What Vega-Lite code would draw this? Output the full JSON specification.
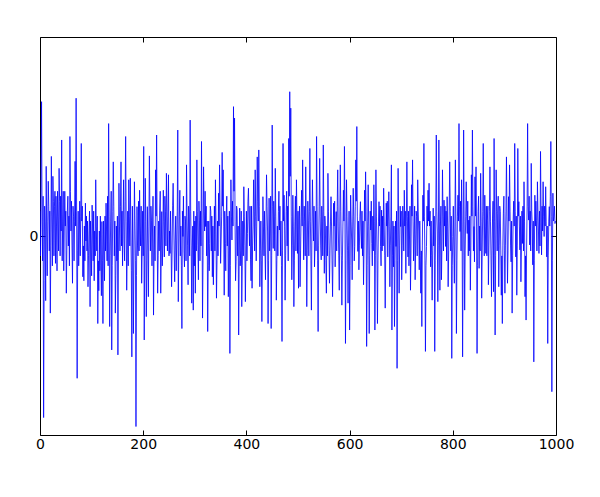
{
  "$schema": "https://vega.github.io/schema/vega-lite/v6.json",
  "width": 516,
  "height": 398,
  "autosize": {"type": "none"},
  "padding": {"left": 40, "top": 37, "right": 44, "bottom": 62},
  "background": "white",
  "data": {"values": [
{"x":0,"y":0.5},{"x":1,"y":-0.4},{"x":3,"y":2.7},{"x":4,"y":0.3},{"x":5,"y":-0.5},{"x":6,"y":0.8},{"x":7,"y":-3.65},{"x":8,"y":-0.9},{"x":9,"y":0.6},{"x":10,"y":0.2},
{"x":11,"y":-1.3},{"x":12,"y":1.4},{"x":13,"y":0.1},{"x":14,"y":-0.8},{"x":15,"y":0.3},{"x":16,"y":1.1},{"x":17,"y":0.6},{"x":18,"y":-0.3},{"x":19,"y":0.5},{"x":20,"y":-1.55},
{"x":21,"y":-0.2},{"x":22,"y":1.6},{"x":23,"y":0.4},{"x":24,"y":-0.6},{"x":25,"y":1.2},{"x":26,"y":0.7},{"x":27,"y":-0.4},{"x":28,"y":0.6},{"x":29,"y":0.9},{"x":30,"y":-0.55},
{"x":31,"y":0.8},{"x":32,"y":0.2},{"x":33,"y":-0.7},{"x":34,"y":0.9},{"x":35,"y":0.4},{"x":36,"y":-0.3},{"x":37,"y":1.36},{"x":38,"y":0.7},{"x":39,"y":-0.4},{"x":40,"y":0.8},
{"x":41,"y":0.1},{"x":42,"y":1.93},{"x":43,"y":-0.5},{"x":44,"y":0.3},{"x":45,"y":0.9},{"x":46,"y":-0.7},{"x":47,"y":0.1},{"x":48,"y":0.9},{"x":49,"y":0.2},{"x":50,"y":0.5},
{"x":51,"y":-1.15},{"x":52,"y":-0.3},{"x":53,"y":0.5},{"x":54,"y":0.8},{"x":55,"y":-0.2},{"x":56,"y":0.4},{"x":57,"y":-0.6},{"x":58,"y":2.0},{"x":59,"y":0.9},{"x":60,"y":0.1},
{"x":61,"y":0.7},{"x":62,"y":-0.2},{"x":63,"y":-0.95},{"x":64,"y":0.6},{"x":65,"y":0.4},{"x":66,"y":-0.5},{"x":67,"y":0.3},{"x":68,"y":1.5},{"x":69,"y":0.2},{"x":70,"y":2.77},
{"x":71,"y":0.5},{"x":72,"y":-2.86},{"x":73,"y":-0.3},{"x":74,"y":0.5},{"x":75,"y":-0.6},{"x":76,"y":-0.1},{"x":77,"y":0.7},{"x":78,"y":-0.4},{"x":79,"y":0.4},{"x":80,"y":1.86},
{"x":81,"y":0.3},{"x":82,"y":0.6},{"x":83,"y":-0.82},{"x":84,"y":-0.2},{"x":85,"y":-0.9},{"x":86,"y":0.2},{"x":87,"y":-0.5},{"x":88,"y":0.66},{"x":89,"y":-0.1},{"x":90,"y":0.4},
{"x":91,"y":-0.3},{"x":92,"y":0.3},{"x":93,"y":-1.02},{"x":94,"y":-0.4},{"x":95,"y":0.1},{"x":96,"y":0.5},{"x":97,"y":-1.42},{"x":98,"y":0.3},{"x":99,"y":-0.2},{"x":100,"y":-0.8},
{"x":101,"y":0.62},{"x":102,"y":0.1},{"x":103,"y":-0.5},{"x":104,"y":0.5},{"x":105,"y":-0.9},{"x":106,"y":0.1},{"x":107,"y":-0.4},{"x":108,"y":1.13},{"x":109,"y":0.2},{"x":110,"y":-0.3},
{"x":111,"y":0.4},{"x":112,"y":-1.76},{"x":113,"y":-0.5},{"x":114,"y":-1.1},{"x":115,"y":0.1},{"x":116,"y":-0.7},{"x":117,"y":0.4},{"x":118,"y":-0.6},{"x":119,"y":-1.2},{"x":120,"y":0.29},
{"x":121,"y":-0.5},{"x":122,"y":-1.76},{"x":123,"y":0.3},{"x":124,"y":-0.2},{"x":125,"y":-0.9},{"x":126,"y":0.4},{"x":127,"y":-0.3},{"x":128,"y":0.66},{"x":129,"y":0.1},{"x":130,"y":-0.5},
{"x":131,"y":0.8},{"x":132,"y":-0.6},{"x":133,"y":2.26},{"x":134,"y":0.4},{"x":135,"y":-1.82},{"x":136,"y":-0.4},{"x":137,"y":0.3},{"x":138,"y":0.9},{"x":139,"y":-2.29},{"x":140,"y":-0.6},
{"x":141,"y":0.5},{"x":142,"y":1.49},{"x":143,"y":0.6},{"x":144,"y":-0.4},{"x":145,"y":0.3},{"x":146,"y":-1.55},{"x":147,"y":-0.8},{"x":148,"y":0.2},{"x":149,"y":-0.5},{"x":150,"y":0.4},
{"x":151,"y":-2.39},{"x":152,"y":-0.5},{"x":153,"y":1.06},{"x":154,"y":0.2},{"x":155,"y":-0.3},{"x":156,"y":0.6},{"x":157,"y":1.49},{"x":158,"y":-0.2},{"x":159,"y":0.5},{"x":160,"y":-0.6},
{"x":161,"y":0.3},{"x":162,"y":1.13},{"x":163,"y":-0.1},{"x":164,"y":-0.5},{"x":165,"y":0.7},{"x":166,"y":2.0},{"x":167,"y":0.3},{"x":168,"y":-1.09},{"x":169,"y":-0.3},{"x":170,"y":0.5},
{"x":171,"y":-0.6},{"x":172,"y":1.13},{"x":173,"y":0.4},{"x":174,"y":-0.2},{"x":175,"y":1.16},{"x":176,"y":0.2},{"x":177,"y":-0.7},{"x":178,"y":-2.43},{"x":179,"y":0.6},{"x":180,"y":-0.3},
{"x":181,"y":-1.96},{"x":182,"y":-0.4},{"x":183,"y":1.09},{"x":184,"y":0.3},{"x":185,"y":-0.5},{"x":186,"y":-3.83},{"x":187,"y":-0.8},{"x":188,"y":0.59},{"x":189,"y":-0.2},{"x":190,"y":-0.4},
{"x":191,"y":0.7},{"x":192,"y":-0.3},{"x":193,"y":0.92},{"x":194,"y":0.2},{"x":195,"y":-0.2},{"x":196,"y":0.6},{"x":197,"y":-0.95},{"x":198,"y":-0.3},{"x":199,"y":0.5},{"x":200,"y":-0.4},
{"x":201,"y":1.8},{"x":202,"y":-2.09},{"x":203,"y":-0.4},{"x":204,"y":1.16},{"x":205,"y":0.3},{"x":206,"y":-1.62},{"x":207,"y":-0.5},{"x":208,"y":0.59},{"x":209,"y":-0.2},{"x":210,"y":-1.22},
{"x":211,"y":0.2},{"x":212,"y":1.61},{"x":213,"y":0.5},{"x":214,"y":-0.3},{"x":215,"y":0.6},{"x":216,"y":0.32},{"x":217,"y":-0.6},{"x":218,"y":0.1},{"x":219,"y":0.8},{"x":220,"y":-1.59},
{"x":221,"y":-0.4},{"x":222,"y":0.2},{"x":223,"y":-0.5},{"x":224,"y":1.33},{"x":225,"y":0.4},{"x":226,"y":2.03},{"x":227,"y":0.2},{"x":228,"y":-1.15},{"x":229,"y":-0.4},{"x":230,"y":0.3},
{"x":231,"y":-0.3},{"x":232,"y":0.52},{"x":233,"y":0.9},{"x":234,"y":-1.15},{"x":235,"y":-0.3},{"x":236,"y":0.49},{"x":237,"y":-0.6},{"x":238,"y":-0.2},{"x":239,"y":0.92},{"x":240,"y":0.3},
{"x":241,"y":-0.42},{"x":242,"y":0.8},{"x":243,"y":0.5},{"x":244,"y":-0.2},{"x":245,"y":1.26},{"x":246,"y":0.5},{"x":247,"y":-0.3},{"x":248,"y":0.4},{"x":249,"y":1.23},{"x":250,"y":-0.4},
{"x":251,"y":0.1},{"x":252,"y":-0.35},{"x":253,"y":0.5},{"x":254,"y":-0.2},{"x":255,"y":-1.02},{"x":256,"y":-0.3},{"x":257,"y":0.62},{"x":258,"y":1.06},{"x":259,"y":0.4},{"x":260,"y":-0.3},
{"x":261,"y":-0.92},{"x":262,"y":-0.1},{"x":263,"y":0.4},{"x":264,"y":-0.7},{"x":265,"y":-0.1},{"x":266,"y":0.5},{"x":267,"y":2.13},{"x":268,"y":-1.32},{"x":269,"y":-0.3},{"x":270,"y":0.4},
{"x":271,"y":0.92},{"x":272,"y":-0.4},{"x":273,"y":0.2},{"x":274,"y":-0.6},{"x":275,"y":-1.86},{"x":276,"y":0.5},{"x":277,"y":-0.01},{"x":278,"y":0.8},{"x":279,"y":-0.3},{"x":280,"y":-0.62},
{"x":281,"y":0.4},{"x":282,"y":0.3},{"x":283,"y":-0.5},{"x":284,"y":1.43},{"x":285,"y":0.4},{"x":286,"y":-0.2},{"x":287,"y":-0.98},{"x":288,"y":0.6},{"x":289,"y":0.3},{"x":290,"y":-0.4},
{"x":291,"y":2.33},{"x":292,"y":0.5},{"x":293,"y":-0.2},{"x":294,"y":-1.35},{"x":295,"y":-0.3},{"x":296,"y":0.2},{"x":297,"y":-1.49},{"x":298,"y":0.5},{"x":299,"y":-0.6},{"x":300,"y":0.3},
{"x":301,"y":-1.15},{"x":302,"y":0.4},{"x":303,"y":-0.3},{"x":304,"y":1.53},{"x":305,"y":0.5},{"x":306,"y":-0.2},{"x":307,"y":-0.88},{"x":308,"y":0.7},{"x":309,"y":0.32},{"x":310,"y":-0.5},
{"x":311,"y":0.5},{"x":312,"y":-0.2},{"x":313,"y":1.9},{"x":314,"y":0.3},{"x":315,"y":-1.65},{"x":316,"y":-0.4},{"x":317,"y":1.39},{"x":318,"y":0.5},{"x":319,"y":0.1},{"x":320,"y":0.9},
{"x":321,"y":0.19},{"x":322,"y":0.6},{"x":323,"y":-0.4},{"x":324,"y":0.3},{"x":325,"y":-1.92},{"x":326,"y":-0.6},{"x":327,"y":0.3},{"x":328,"y":-0.7},{"x":329,"y":-0.15},{"x":330,"y":0.6},
{"x":331,"y":0.5},{"x":332,"y":-0.3},{"x":333,"y":0.4},{"x":334,"y":-0.82},{"x":335,"y":0.2},{"x":336,"y":-0.98},{"x":337,"y":-0.2},{"x":338,"y":0.6},{"x":339,"y":-0.3},{"x":340,"y":1.13},
{"x":341,"y":0.3},{"x":342,"y":-1.25},{"x":343,"y":-0.5},{"x":344,"y":0.3},{"x":345,"y":-0.4},{"x":346,"y":0.86},{"x":347,"y":0.2},{"x":348,"y":1.43},{"x":349,"y":0.5},{"x":350,"y":-0.55},
{"x":351,"y":-0.1},{"x":352,"y":0.4},{"x":353,"y":1.68},{"x":354,"y":0.6},{"x":355,"y":1.33},{"x":356,"y":0.2},{"x":357,"y":-1.19},{"x":358,"y":0.5},{"x":359,"y":-0.15},{"x":360,"y":-0.7},
{"x":361,"y":0.42},{"x":362,"y":0.8},{"x":363,"y":-0.2},{"x":364,"y":0.4},{"x":365,"y":-1.22},{"x":366,"y":-0.3},{"x":367,"y":0.5},{"x":368,"y":-2.36},{"x":369,"y":-0.6},{"x":370,"y":1.13},
{"x":371,"y":0.4},{"x":372,"y":-0.08},{"x":373,"y":0.7},{"x":374,"y":0.2},{"x":375,"y":2.6},{"x":376,"y":0.9},{"x":377,"y":2.37},{"x":378,"y":0.3},{"x":379,"y":-0.9},{"x":380,"y":-0.52},
{"x":381,"y":0.6},{"x":382,"y":0.52},{"x":383,"y":-0.4},{"x":384,"y":0.2},{"x":385,"y":-1.99},{"x":386,"y":-0.5},{"x":387,"y":0.56},{"x":388,"y":-0.6},{"x":389,"y":-0.3},{"x":390,"y":0.5},
{"x":391,"y":-1.42},{"x":392,"y":-0.6},{"x":393,"y":0.3},{"x":394,"y":-0.4},{"x":395,"y":0.99},{"x":396,"y":0.4},{"x":397,"y":-0.2},{"x":398,"y":-1.32},{"x":399,"y":-0.4},{"x":400,"y":0.5},
{"x":401,"y":-0.5},{"x":402,"y":0.05},{"x":403,"y":0.7},{"x":404,"y":0.96},{"x":405,"y":0.3},{"x":406,"y":-0.2},{"x":407,"y":0.6},{"x":408,"y":-0.48},{"x":409,"y":-0.9},{"x":410,"y":0.6},
{"x":411,"y":-1.05},{"x":412,"y":-0.2},{"x":413,"y":0.2},{"x":414,"y":1.13},{"x":415,"y":0.5},{"x":416,"y":-0.3},{"x":417,"y":1.33},{"x":418,"y":0.4},{"x":419,"y":-0.5},{"x":420,"y":0.2},
{"x":421,"y":1.59},{"x":422,"y":0.7},{"x":423,"y":0.3},{"x":424,"y":1.73},{"x":425,"y":0.6},{"x":426,"y":-1.02},{"x":427,"y":-0.3},{"x":428,"y":0.3},{"x":429,"y":-0.5},{"x":430,"y":-1.72},
{"x":431,"y":-0.4},{"x":432,"y":0.79},{"x":433,"y":0.2},{"x":434,"y":-0.4},{"x":435,"y":0.5},{"x":436,"y":-0.3},{"x":437,"y":-0.88},{"x":438,"y":0.2},{"x":439,"y":1.23},{"x":440,"y":0.6},
{"x":441,"y":0.1},{"x":442,"y":-1.76},{"x":443,"y":-0.5},{"x":444,"y":0.76},{"x":445,"y":-0.3},{"x":446,"y":0.1},{"x":447,"y":0.8},{"x":448,"y":-1.86},{"x":449,"y":-0.4},{"x":450,"y":2.23},
{"x":451,"y":0.6},{"x":452,"y":-0.25},{"x":453,"y":0.7},{"x":454,"y":0.4},{"x":455,"y":-0.3},{"x":456,"y":1.36},{"x":457,"y":0.4},{"x":458,"y":-1.29},{"x":459,"y":-0.5},{"x":460,"y":0.2},
{"x":461,"y":-0.4},{"x":462,"y":0.49},{"x":463,"y":0.9},{"x":464,"y":0.12},{"x":465,"y":0.6},{"x":466,"y":-0.4},{"x":467,"y":0.3},{"x":468,"y":-0.6},{"x":469,"y":-2.12},{"x":470,"y":-0.3},
{"x":471,"y":1.86},{"x":472,"y":0.3},{"x":473,"y":0.82},{"x":474,"y":0.2},{"x":475,"y":-1.29},{"x":476,"y":-0.4},{"x":477,"y":0.49},{"x":478,"y":0.9},{"x":479,"y":-0.2},{"x":480,"y":0.6},
{"x":481,"y":-0.5},{"x":482,"y":1.96},{"x":483,"y":0.8},{"x":484,"y":2.9},{"x":485,"y":1.2},{"x":486,"y":2.57},{"x":487,"y":0.4},{"x":488,"y":-0.88},{"x":489,"y":-0.2},{"x":490,"y":0.82},
{"x":491,"y":0.2},{"x":492,"y":-1.42},{"x":493,"y":-0.5},{"x":494,"y":0.3},{"x":495,"y":0.8},{"x":496,"y":-0.3},{"x":497,"y":1.13},{"x":498,"y":0.4},{"x":499,"y":-0.35},{"x":500,"y":0.5},
{"x":501,"y":-1.05},{"x":502,"y":0.32},{"x":503,"y":0.6},{"x":504,"y":-1.02},{"x":505,"y":-0.3},{"x":506,"y":0.4},{"x":507,"y":0.92},{"x":508,"y":0.2},{"x":509,"y":1.53},{"x":510,"y":0.4},
{"x":511,"y":-0.48},{"x":512,"y":0.6},{"x":513,"y":0.3},{"x":514,"y":-0.4},{"x":515,"y":1.39},{"x":516,"y":0.2},{"x":517,"y":-1.42},{"x":518,"y":-0.3},{"x":519,"y":0.7},{"x":520,"y":0.32},
{"x":521,"y":-0.4},{"x":522,"y":0.5},{"x":523,"y":1.76},{"x":524,"y":0.3},{"x":525,"y":-0.5},{"x":526,"y":-1.49},{"x":527,"y":0.2},{"x":528,"y":1.13},{"x":529,"y":0.4},{"x":530,"y":-0.1},
{"x":531,"y":0.6},{"x":532,"y":-0.62},{"x":533,"y":-0.2},{"x":534,"y":0.5},{"x":535,"y":-0.3},{"x":536,"y":2.0},{"x":537,"y":0.6},{"x":538,"y":-0.5},{"x":539,"y":-1.92},{"x":540,"y":-0.2},
{"x":541,"y":0.6},{"x":542,"y":1.56},{"x":543,"y":0.4},{"x":544,"y":-0.2},{"x":545,"y":-0.48},{"x":546,"y":0.6},{"x":547,"y":0.3},{"x":548,"y":-0.4},{"x":549,"y":1.83},{"x":550,"y":0.5},
{"x":551,"y":-0.75},{"x":552,"y":0.4},{"x":553,"y":0.2},{"x":554,"y":-0.5},{"x":555,"y":-1.15},{"x":556,"y":0.2},{"x":557,"y":-0.4},{"x":558,"y":1.26},{"x":559,"y":0.5},{"x":560,"y":-0.2},
{"x":561,"y":-0.95},{"x":562,"y":-0.3},{"x":563,"y":0.3},{"x":564,"y":0.79},{"x":565,"y":0.2},{"x":566,"y":-0.5},{"x":567,"y":-1.22},{"x":568,"y":-0.3},{"x":569,"y":0.66},{"x":570,"y":0.2},
{"x":571,"y":0.7},{"x":572,"y":-0.62},{"x":573,"y":0.1},{"x":574,"y":0.49},{"x":575,"y":-0.3},{"x":576,"y":0.6},{"x":577,"y":1.33},{"x":578,"y":0.2},{"x":579,"y":-0.4},{"x":580,"y":-1.09},
{"x":581,"y":0.3},{"x":582,"y":1.43},{"x":583,"y":0.5},{"x":584,"y":-0.4},{"x":585,"y":-1.39},{"x":586,"y":-0.5},{"x":587,"y":0.2},{"x":588,"y":0.92},{"x":589,"y":0.3},{"x":590,"y":1.8},
{"x":591,"y":0.4},{"x":592,"y":-2.16},{"x":593,"y":-0.5},{"x":594,"y":1.13},{"x":595,"y":0.4},{"x":596,"y":-0.3},{"x":597,"y":-1.35},{"x":598,"y":-0.2},{"x":599,"y":0.5},{"x":600,"y":-1.89},
{"x":601,"y":-0.6},{"x":602,"y":0.82},{"x":603,"y":0.3},{"x":604,"y":-0.1},{"x":605,"y":-0.88},{"x":606,"y":0.2},{"x":607,"y":0.96},{"x":608,"y":0.4},{"x":609,"y":-0.5},{"x":610,"y":-0.21},
{"x":611,"y":0.6},{"x":612,"y":1.53},{"x":613,"y":0.7},{"x":614,"y":2.2},{"x":615,"y":0.4},{"x":616,"y":-0.31},{"x":617,"y":0.3},{"x":618,"y":-0.68},{"x":619,"y":-0.2},{"x":620,"y":0.4},
{"x":621,"y":0.69},{"x":622,"y":0.1},{"x":623,"y":-0.25},{"x":624,"y":0.5},{"x":625,"y":-0.4},{"x":626,"y":0.3},{"x":627,"y":-0.98},{"x":628,"y":-0.2},{"x":629,"y":0.92},{"x":630,"y":0.3},
{"x":631,"y":1.29},{"x":632,"y":0.5},{"x":633,"y":-2.22},{"x":634,"y":-0.6},{"x":635,"y":0.3},{"x":636,"y":1.03},{"x":637,"y":0.2},{"x":638,"y":-1.96},{"x":639,"y":-0.4},{"x":640,"y":0.5},
{"x":641,"y":0.12},{"x":642,"y":0.7},{"x":643,"y":-0.15},{"x":644,"y":-0.6},{"x":645,"y":0.4},{"x":646,"y":-0.3},{"x":647,"y":1.03},{"x":648,"y":0.3},{"x":649,"y":-1.89},{"x":650,"y":-0.4},
{"x":651,"y":1.33},{"x":652,"y":0.4},{"x":653,"y":-0.3},{"x":654,"y":-1.76},{"x":655,"y":-0.5},{"x":656,"y":0.3},{"x":657,"y":0.69},{"x":658,"y":0.2},{"x":659,"y":0.6},{"x":660,"y":-0.21},
{"x":661,"y":-0.6},{"x":662,"y":0.52},{"x":663,"y":-0.3},{"x":664,"y":0.4},{"x":665,"y":-0.2},{"x":666,"y":0.96},{"x":667,"y":0.3},{"x":668,"y":-0.4},{"x":669,"y":-1.45},{"x":670,"y":-0.3},
{"x":671,"y":0.66},{"x":672,"y":0.2},{"x":673,"y":0.7},{"x":674,"y":-0.42},{"x":675,"y":0.3},{"x":676,"y":0.89},{"x":677,"y":0.2},{"x":678,"y":-1.02},{"x":679,"y":-0.2},{"x":680,"y":0.4},
{"x":681,"y":1.43},{"x":682,"y":-1.89},{"x":683,"y":-0.4},{"x":684,"y":0.3},{"x":685,"y":-0.62},{"x":686,"y":0.2},{"x":687,"y":-1.82},{"x":688,"y":-0.5},{"x":689,"y":0.3},{"x":690,"y":-0.21},
{"x":691,"y":0.5},{"x":692,"y":-2.66},{"x":693,"y":-0.5},{"x":694,"y":1.36},{"x":695,"y":0.3},{"x":696,"y":-1.15},{"x":697,"y":-0.2},{"x":698,"y":0.6},{"x":699,"y":0.19},{"x":700,"y":0.5},
{"x":701,"y":-0.88},{"x":702,"y":-0.2},{"x":703,"y":0.6},{"x":704,"y":0.32},{"x":705,"y":-0.3},{"x":706,"y":0.92},{"x":707,"y":0.2},{"x":708,"y":0.5},{"x":709,"y":-0.75},{"x":710,"y":0.3},
{"x":711,"y":1.49},{"x":712,"y":0.4},{"x":713,"y":-0.42},{"x":714,"y":0.5},{"x":715,"y":-0.6},{"x":716,"y":-0.08},{"x":717,"y":0.6},{"x":718,"y":-1.09},{"x":719,"y":-0.3},{"x":720,"y":1.03},
{"x":721,"y":0.4},{"x":722,"y":1.53},{"x":723,"y":0.3},{"x":724,"y":-0.5},{"x":725,"y":0.0},{"x":726,"y":0.6},{"x":727,"y":-0.88},{"x":728,"y":-0.2},{"x":729,"y":0.5},{"x":730,"y":0.39},
{"x":731,"y":-0.4},{"x":732,"y":1.13},{"x":733,"y":0.5},{"x":734,"y":0.1},{"x":735,"y":-0.68},{"x":736,"y":0.3},{"x":737,"y":-0.4},{"x":738,"y":-1.15},{"x":739,"y":-0.3},{"x":740,"y":-1.82},
{"x":741,"y":-0.2},{"x":742,"y":0.82},{"x":743,"y":0.3},{"x":744,"y":1.86},{"x":745,"y":0.4},{"x":746,"y":-0.5},{"x":747,"y":-2.32},{"x":748,"y":-0.6},{"x":749,"y":-0.21},{"x":750,"y":0.6},
{"x":751,"y":0.2},{"x":752,"y":0.92},{"x":753,"y":0.3},{"x":754,"y":1.06},{"x":755,"y":0.2},{"x":756,"y":0.5},{"x":757,"y":-0.62},{"x":758,"y":0.3},{"x":759,"y":-0.4},{"x":760,"y":-1.29},
{"x":761,"y":-0.3},{"x":762,"y":0.56},{"x":763,"y":-0.2},{"x":764,"y":0.4},{"x":765,"y":-2.32},{"x":766,"y":-0.5},{"x":767,"y":0.4},{"x":768,"y":2.03},{"x":769,"y":0.5},{"x":770,"y":0.1},
{"x":771,"y":-1.32},{"x":772,"y":-0.2},{"x":773,"y":1.93},{"x":774,"y":0.3},{"x":775,"y":-1.09},{"x":776,"y":0.2},{"x":777,"y":0.6},{"x":778,"y":-0.88},{"x":779,"y":-0.2},{"x":780,"y":1.33},
{"x":781,"y":0.4},{"x":782,"y":-0.3},{"x":783,"y":0.72},{"x":784,"y":0.2},{"x":785,"y":0.6},{"x":786,"y":-0.21},{"x":787,"y":0.5},{"x":788,"y":-0.5},{"x":789,"y":0.79},{"x":790,"y":0.2},
{"x":791,"y":-1.02},{"x":792,"y":-0.3},{"x":793,"y":0.5},{"x":794,"y":1.49},{"x":795,"y":0.5},{"x":796,"y":-0.3},{"x":797,"y":0.4},{"x":798,"y":-2.46},{"x":799,"y":-0.6},{"x":800,"y":-0.01},
{"x":801,"y":0.6},{"x":802,"y":-0.3},{"x":803,"y":-0.95},{"x":804,"y":0.2},{"x":805,"y":1.53},{"x":806,"y":0.3},{"x":807,"y":-1.96},{"x":808,"y":-0.5},{"x":809,"y":0.4},{"x":810,"y":0.82},
{"x":811,"y":0.3},{"x":812,"y":2.26},{"x":813,"y":0.6},{"x":814,"y":0.09},{"x":815,"y":0.7},{"x":816,"y":-0.3},{"x":817,"y":1.13},{"x":818,"y":0.2},{"x":819,"y":-2.43},{"x":820,"y":-0.4},
{"x":821,"y":2.13},{"x":822,"y":0.3},{"x":823,"y":-1.49},{"x":824,"y":-0.3},{"x":825,"y":0.4},{"x":826,"y":1.09},{"x":827,"y":0.4},{"x":828,"y":0.05},{"x":829,"y":0.7},{"x":830,"y":-0.4},
{"x":831,"y":0.32},{"x":832,"y":-0.3},{"x":833,"y":0.4},{"x":834,"y":-1.09},{"x":835,"y":-0.2},{"x":836,"y":1.23},{"x":837,"y":0.4},{"x":838,"y":2.13},{"x":839,"y":0.6},{"x":840,"y":-0.3},
{"x":841,"y":0.19},{"x":842,"y":-0.52},{"x":843,"y":1.19},{"x":844,"y":0.4},{"x":845,"y":1.39},{"x":846,"y":0.2},{"x":847,"y":-2.36},{"x":848,"y":-0.6},{"x":849,"y":0.49},{"x":850,"y":0.8},
{"x":851,"y":-0.65},{"x":852,"y":0.2},{"x":853,"y":-0.3},{"x":854,"y":1.26},{"x":855,"y":0.3},{"x":856,"y":-1.25},{"x":857,"y":-0.3},{"x":858,"y":0.5},{"x":859,"y":1.86},{"x":860,"y":0.4},
{"x":861,"y":-0.4},{"x":862,"y":0.82},{"x":863,"y":0.2},{"x":864,"y":-0.35},{"x":865,"y":0.6},{"x":866,"y":-0.4},{"x":867,"y":0.32},{"x":868,"y":0.6},{"x":869,"y":-0.98},{"x":870,"y":-0.2},
{"x":871,"y":0.5},{"x":872,"y":1.39},{"x":873,"y":0.3},{"x":874,"y":-0.4},{"x":875,"y":-1.22},{"x":876,"y":-0.3},{"x":877,"y":0.36},{"x":878,"y":0.7},{"x":879,"y":-1.12},{"x":880,"y":1.96},
{"x":881,"y":0.3},{"x":882,"y":-1.99},{"x":883,"y":-0.4},{"x":884,"y":1.33},{"x":885,"y":0.5},{"x":886,"y":-0.3},{"x":887,"y":0.46},{"x":888,"y":0.8},{"x":889,"y":-1.02},{"x":890,"y":-0.2},
{"x":891,"y":0.6},{"x":892,"y":0.49},{"x":893,"y":-0.3},{"x":894,"y":-1.19},{"x":895,"y":-0.4},{"x":896,"y":-1.76},{"x":897,"y":-0.2},{"x":898,"y":0.46},{"x":899,"y":0.8},{"x":900,"y":-0.3},
{"x":901,"y":-1.15},{"x":902,"y":-0.2},{"x":903,"y":0.5},{"x":904,"y":1.59},{"x":905,"y":0.4},{"x":906,"y":-0.95},{"x":907,"y":-0.3},{"x":908,"y":0.79},{"x":909,"y":0.3},{"x":910,"y":1.43},
{"x":911,"y":0.5},{"x":912,"y":-0.2},{"x":913,"y":-0.52},{"x":914,"y":0.3},{"x":915,"y":-1.55},{"x":916,"y":-0.4},{"x":917,"y":0.32},{"x":918,"y":0.7},{"x":919,"y":0.2},{"x":920,"y":1.86},
{"x":921,"y":0.5},{"x":922,"y":-0.42},{"x":923,"y":0.4},{"x":924,"y":-1.19},{"x":925,"y":-0.2},{"x":926,"y":1.76},{"x":927,"y":0.4},{"x":928,"y":0.69},{"x":929,"y":0.2},{"x":930,"y":-0.28},
{"x":931,"y":0.4},{"x":932,"y":-0.92},{"x":933,"y":-0.2},{"x":934,"y":0.5},{"x":935,"y":-0.15},{"x":936,"y":0.6},{"x":937,"y":-0.3},{"x":938,"y":1.09},{"x":939,"y":0.3},{"x":940,"y":-1.22},
{"x":941,"y":-0.4},{"x":942,"y":-1.69},{"x":943,"y":-0.3},{"x":944,"y":0.6},{"x":945,"y":2.26},{"x":946,"y":0.6},{"x":947,"y":0.32},{"x":948,"y":0.8},{"x":949,"y":-0.18},{"x":950,"y":0.5},
{"x":951,"y":-0.3},{"x":952,"y":1.46},{"x":953,"y":0.5},{"x":954,"y":0.2},{"x":955,"y":-0.58},{"x":956,"y":0.3},{"x":957,"y":-2.53},{"x":958,"y":-0.5},{"x":959,"y":0.82},{"x":960,"y":0.2},
{"x":961,"y":0.7},{"x":962,"y":0.32},{"x":963,"y":-0.3},{"x":964,"y":1.09},{"x":965,"y":0.5},{"x":966,"y":0.1},{"x":967,"y":-0.35},{"x":968,"y":0.5},{"x":969,"y":-0.2},{"x":970,"y":1.7},
{"x":971,"y":0.5},{"x":972,"y":-0.38},{"x":973,"y":0.6},{"x":974,"y":0.1},{"x":975,"y":1.09},{"x":976,"y":0.4},{"x":977,"y":-0.01},{"x":978,"y":0.6},{"x":979,"y":0.2},{"x":980,"y":0.99},
{"x":981,"y":0.3},{"x":982,"y":-0.42},{"x":983,"y":0.2},{"x":984,"y":-2.16},{"x":985,"y":-0.4},{"x":986,"y":0.3},{"x":987,"y":0.59},{"x":988,"y":0.2},{"x":989,"y":0.8},{"x":990,"y":1.9},
{"x":991,"y":0.4},{"x":992,"y":-3.13},{"x":993,"y":-0.5},{"x":994,"y":0.86},{"x":995,"y":0.3},{"x":996,"y":0.39},{"x":997,"y":0.6},{"x":998,"y":0.25},{"x":999,"y":0.3}
  ]},
  "layer": [
    {
      "mark": {"type": "line", "color": "#0000ff", "strokeWidth": 0.8, "clip": true},
      "encoding": {
        "x": {
          "field": "x", "type": "quantitative",
          "scale": {"domain": [0, 1000], "nice": false, "zero": false},
          "axis": {"values": [0, 200, 400, 600, 800, 1000], "format": "d", "title": null, "orient": "bottom"}
        },
        "y": {
          "field": "y", "type": "quantitative",
          "scale": {"domain": [-4, 4], "nice": false, "zero": false},
          "axis": {"values": [0], "format": "d", "title": null, "orient": "left"}
        }
      }
    },
    {
      "mark": {"type": "line", "opacity": 0},
      "encoding": {
        "x": {
          "field": "x", "type": "quantitative",
          "axis": {"values": [0, 200, 400, 600, 800, 1000], "title": null, "orient": "top", "labels": false}
        },
        "y": {
          "field": "y", "type": "quantitative",
          "axis": {"values": [0], "title": null, "orient": "right", "labels": false}
        }
      }
    }
  ],
  "resolve": {"axis": {"x": "independent", "y": "independent"}},
  "config": {
    "view": {"stroke": "black", "strokeWidth": 1},
    "axis": {
      "grid": false,
      "domain": false,
      "ticks": true,
      "tickSize": -5,
      "tickColor": "black",
      "labelFont": "DejaVu Sans",
      "labelFontSize": 14,
      "labelColor": "black",
      "labelPadding": 7,
      "labelFlush": false,
      "labelOverlap": false
    }
  }
}
